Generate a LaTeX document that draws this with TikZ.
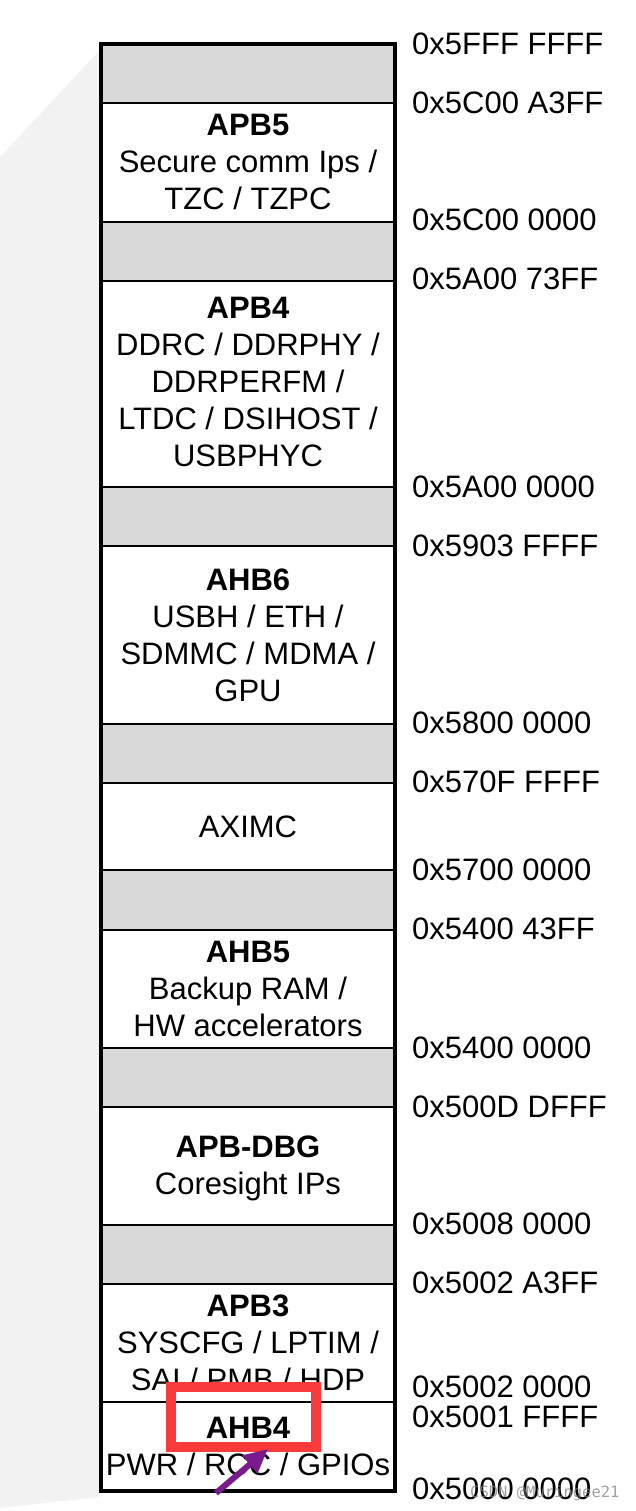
\documentclass[tikz,border=0pt]{standalone}
\usepackage{fontspec}
\setmainfont{Liberation Sans}
\newfontfamily\wmfont{DejaVu Sans Mono}
\usetikzlibrary{arrows.meta}
\definecolor{bgshade}{HTML}{F2F2F2}
\definecolor{resgray}{HTML}{D9D9D9}
\definecolor{hlred}{HTML}{F93A3A}
\definecolor{arrowpurple}{HTML}{7A1A8C}
\begin{document}
\begin{tikzpicture}[x=1pt,y=-1pt,
  txt/.style={font=\fontsize{31}{37}\selectfont, inner sep=0pt, anchor=base},
  ttl/.style={txt, font=\fontsize{31}{37}\selectfont\bfseries},
  addr/.style={font=\fontsize{31}{37}\selectfont, inner sep=0pt, anchor=base west},
  divider/.style={line width=2.5pt},
  frame/.style={line width=4pt}]
\useasboundingbox (0,0) rectangle (635,1511);
% background shade
\fill[bgshade] (100,50) -- (0,157) -- (0,1508) -- (100,1497) -- cycle;
\fill[white] (101,44) rectangle (395,1491);
% reserved (gray) rows
\foreach \a/\b in {44/103,222/281,487/546,724/783,870/930,1048/1107,1225/1284}
  \fill[resgray] (101,\a) rectangle (395,\b);
% dividers
\foreach \y in {103,222,281,487,546,724,783,870,930,1048,1107,1225,1284,1402}
  \draw[divider] (101,\y) -- (395,\y);
\draw[frame] (101,44) rectangle (395,1491);
% APB5
\node[ttl] (apb5) at (248,136) {APB5};
\node[txt] (apb5a) at (248,173) {Secure comm Ips /};
\node[txt] (apb5b) at (248,210) {TZC / TZPC};
% APB4
\node[ttl] (apb4) at (248,318.5) {APB4};
\node[txt] (apb4a) at (248,355.5) {DDRC / DDRPHY /};
\node[txt] (apb4b) at (248,392.5) {DDRPERFM /};
\node[txt] (apb4c) at (248,429.5) {LTDC / DSIHOST /};
\node[txt] (apb4d) at (248,466.5) {USBPHYC};
% AHB6
\node[ttl] (ahb6) at (248,590) {AHB6};
\node[txt] (ahb6a) at (248,627) {USBH / ETH /};
\node[txt] (ahb6b) at (248,664) {SDMMC / MDMA /};
\node[txt] (ahb6c) at (248,701) {GPU};
% AXIMC
\node[txt] (aximc) at (248,837) {AXIMC};
% AHB5
\node[ttl] (ahb5) at (248,962.5) {AHB5};
\node[txt] (ahb5a) at (248,999.5) {Backup RAM /};
\node[txt] (ahb5b) at (248,1036.5) {HW accelerators};
% APB-DBG
\node[ttl] (apbdbg) at (248,1157) {APB-DBG};
\node[txt] (apbdbga) at (248,1194) {Coresight IPs};
% APB3
\node[ttl] (apb3) at (248,1316.5) {APB3};
\node[txt] (apb3a) at (248,1353.5) {SYSCFG / LPTIM /};
\node[txt] (apb3b) at (248,1390.5) {SAI / PMB / HDP};
% AHB4
\node[ttl] (ahb4) at (248,1438) {AHB4};
\node[txt] (ahb4a) at (248,1475) {PWR / RCC / GPIOs};
% addresses
\node[addr] (l1) at (412,54.5) {0x5FFF FFFF};
\node[addr] (l2) at (412,113.5) {0x5C00 A3FF};
\node[addr] (l3) at (412,231) {0x5C00 0000};
\node[addr] (l4) at (412,290) {0x5A00 73FF};
\node[addr] (l5) at (412,497) {0x5A00 0000};
\node[addr] (l6) at (412,556) {0x5903 FFFF};
\node[addr] (l7) at (412,733) {0x5800 0000};
\node[addr] (l8) at (412,792) {0x570F FFFF};
\node[addr] (l9) at (412,880) {0x5700 0000};
\node[addr] (l10) at (412,939) {0x5400 43FF};
\node[addr] (l11) at (412,1058) {0x5400 0000};
\node[addr] (l12) at (412,1117) {0x500D DFFF};
\node[addr] (l13) at (412,1234) {0x5008 0000};
\node[addr] (l14) at (412,1293) {0x5002 A3FF};
\node[addr] (l15) at (412,1397) {0x5002 0000};
\node[addr] (l16) at (412,1427) {0x5001 FFFF};
\node[addr] (l17) at (412,1499) {0x5000 0000};
% highlight
\node[draw=hlred, line width=10pt, minimum width=145pt, minimum height=60pt, inner sep=0pt] (hl) at (243.5,1417) {};
\coordinate (tail) at (216,1493);
\coordinate (tip) at (268,1449);
\draw[arrowpurple, line width=6pt, -{Triangle[length=24pt,width=22pt]}] (tail) -- (tip);
% watermark
\node[anchor=base west, inner sep=0pt, font=\wmfont\fontsize{15.5}{18}\selectfont, text=gray, opacity=0.75] (wm) at (470,1497) {CSDN @Muringee21};
\end{tikzpicture}
\end{document}
